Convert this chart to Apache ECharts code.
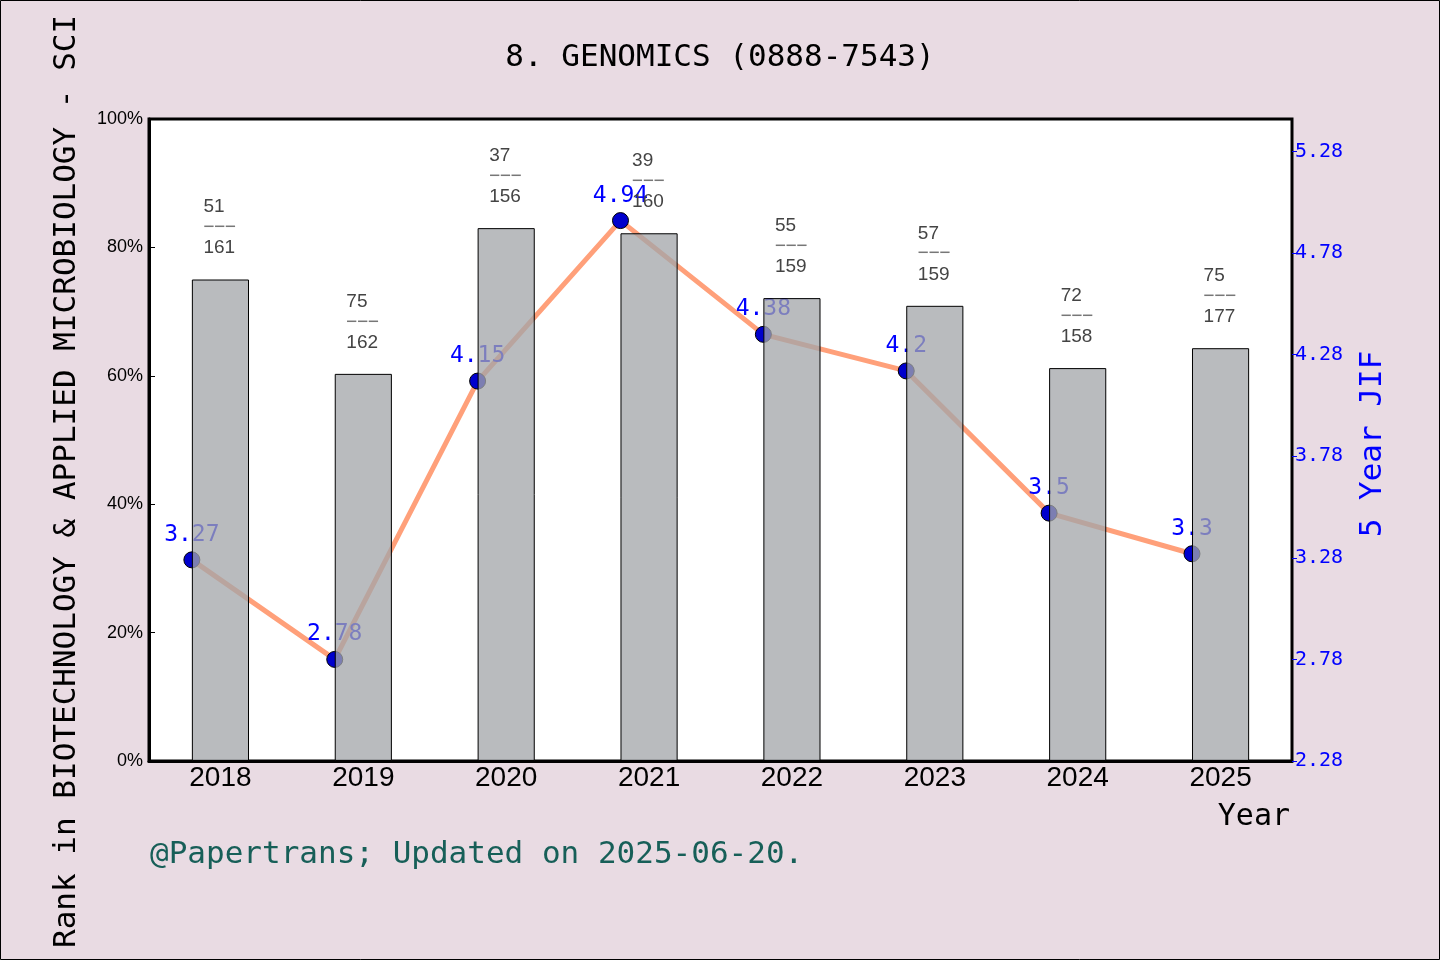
<!DOCTYPE html>
<html>
<head>
<meta charset="utf-8">
<script src="https://cdn.jsdelivr.net/npm/echarts@6/dist/echarts.min.js"></script>
<style>
  html, body { margin: 0; padding: 0; background: #e9dbe3; }
  #chart { width: 1440px; height: 960px; }
</style>
</head>
<body>
<div id="chart"></div>
<script>
const years = ['2018', '2019', '2020', '2021', '2022', '2023', '2024', '2025']
const rankPct = [75.0, 60.3, 83.0, 82.2, 72.1, 70.9, 61.2, 64.3]
const rank = [51, 75, 37, 39, 55, 57, 72, 75]
const total = [161, 162, 156, 160, 159, 159, 158, 177]
const jif = [3.27, 2.78, 4.15, 4.94, 4.38, 4.2, 3.5, 3.3]
const pctTicks = [0, 20, 40, 60, 80, 100]
const jifTicks = [2.28, 2.78, 3.28, 3.78, 4.28, 4.78, 5.28]

const mono = 'DejaVu Sans Mono'
const sans = 'Liberation Sans'

const myChart = echarts.init(document.getElementById('chart'))

let option = {
  backgroundColor: '#e9dbe3',
  animation: false,
  title: {
    text: '8. GENOMICS (0888-7543)',
    left: 'center',
    top: 37,
    textStyle: { fontFamily: mono, fontSize: 31, fontWeight: 'normal', color: '#000' }
  },
  grid: {
    left: 149, right: 148, top: 119, bottom: 199,
    show: true, backgroundColor: '#fff', borderColor: '#000', borderWidth: 3
  },
  xAxis: [
    {
      type: 'category',
      data: years,
      axisLine: { lineStyle: { color: '#000', width: 3 } },
      axisTick: { inside: true, length: 6, lineStyle: { color: '#000' } },
      axisLabel: { color: '#000', fontFamily: sans, fontSize: 28, margin: 3 }
    },
    {
      type: 'value',
      min: Number(years[0]) - 0.5,
      max: Number(years[years.length - 1]) + 0.5,
      show: false
    }
  ],
  yAxis: [
    {
      type: 'value',
      min: pctTicks[0],
      max: pctTicks[pctTicks.length - 1],
      interval: 20,
      splitLine: { show: false },
      axisLine: { show: true, lineStyle: { color: '#000', width: 3 } },
      axisTick: { show: true, inside: true, length: 6, lineStyle: { color: '#000' } },
      axisLabel: { color: '#000', fontFamily: sans, fontSize: 18, margin: 6, formatter: '{value}%' }
    },
    {
      type: 'value',
      position: 'right',
      min: Math.min(...jif) - 0.5,
      max: Math.max(...jif) + 0.5,
      interval: 0.5,
      splitLine: { show: false },
      axisLine: { show: false },
      axisTick: { show: true, length: 5, customValues: jifTicks, lineStyle: { color: '#0000ff' } },
      axisLabel: {
        color: '#0000ff', fontFamily: mono, fontSize: 20, margin: 3,
        customValues: jifTicks,
        formatter: v => v.toFixed(2)
      }
    }
  ],
  series: [
    {
      type: 'line',
      xAxisIndex: 1,
      yAxisIndex: 1,
      z: 1,
      data: years.map((y, i) => [Number(y) - 0.2, jif[i]]),
      lineStyle: { color: '#ffa07a', width: 5 },
      symbol: 'circle',
      symbolSize: 16,
      itemStyle: { color: '#0000cd', borderColor: '#000', borderWidth: 1 },
      label: {
        show: true,
        position: 'top',
        distance: 5,
        color: '#0000ff',
        fontFamily: mono,
        fontSize: 23,
        formatter: p => String(p.value[1])
      }
    },
    {
      type: 'bar',
      xAxisIndex: 0,
      yAxisIndex: 0,
      z: 2,
      barWidth: '40%',
      data: rankPct,
      itemStyle: { color: 'rgba(163,165,170,0.76)', borderColor: '#000', borderWidth: 1 },
      label: {
        show: true,
        position: 'top',
        distance: 21,
        formatter: p => '{a|' + rank[p.dataIndex] + '}\n{b|\u2212\u2212\u2212}\n{a|' + total[p.dataIndex] + '}',
        rich: {
          a: { width: 34, align: 'left', fontFamily: sans, fontSize: 19, color: '#444', lineHeight: 21 },
          b: { width: 34, align: 'left', fontFamily: mono, fontSize: 18, color: '#777', lineHeight: 20 }
        }
      }
    }
  ],
  graphic: [
    {
      type: 'text',
      x: 67, y: 948,
      rotation: Math.PI / 2,
      style: {
        text: 'Rank in BIOTECHNOLOGY & APPLIED MICROBIOLOGY - SCI',
        fontFamily: mono, fontSize: 31, fill: '#000',
        align: 'left', verticalAlign: 'middle'
      }
    },
    {
      type: 'text',
      x: 1373, y: 444,
      rotation: Math.PI / 2,
      style: {
        text: '5 Year JIF',
        fontFamily: mono, fontSize: 31, fill: '#0000ff',
        align: 'center', verticalAlign: 'middle'
      }
    },
    {
      type: 'text',
      x: 1290, y: 817,
      style: {
        text: 'Year',
        fontFamily: mono, fontSize: 30, fill: '#000',
        align: 'right', verticalAlign: 'middle'
      }
    },
    {
      type: 'text',
      x: 150, y: 855,
      style: {
        text: '@Papertrans; Updated on 2025-06-20.',
        fontFamily: mono, fontSize: 31, fill: '#175f58',
        align: 'left', verticalAlign: 'middle'
      }
    },
    {
      type: 'rect',
      shape: { x: 0.5, y: 0.5, width: 1439, height: 959 },
      style: { fill: 'none', stroke: '#000', lineWidth: 1 }
    }
  ]
}

myChart.setOption(option)
</script>
</body>
</html>
